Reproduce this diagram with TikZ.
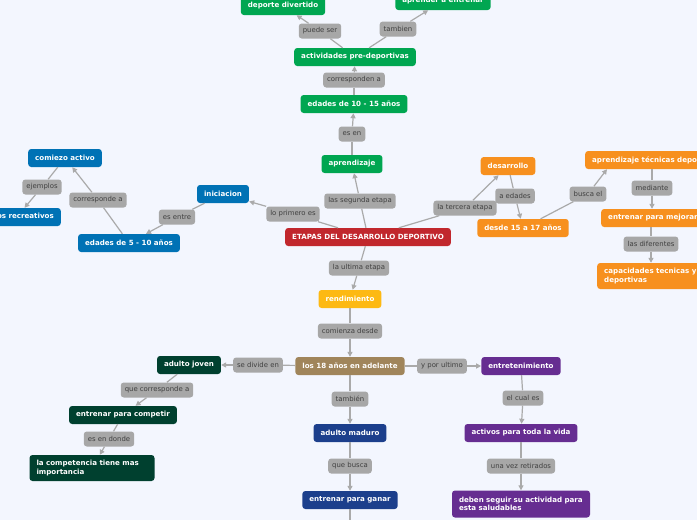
\documentclass[tikz,border=0pt]{standalone}
\usepackage{fontspec}
\setmainfont{DejaVu Sans}
\usetikzlibrary{arrows.meta,positioning}

\definecolor{bgcol}{HTML}{F3F6FE}
\definecolor{redc}{HTML}{C1272D}
\definecolor{greenc}{HTML}{00A651}
\definecolor{bluec}{HTML}{0072B5}
\definecolor{orangec}{HTML}{F7901E}
\definecolor{yellowc}{HTML}{FDB913}
\definecolor{brownc}{HTML}{A0855B}
\definecolor{dgreenc}{HTML}{00402F}
\definecolor{navyc}{HTML}{1C3F8C}
\definecolor{purplec}{HTML}{662D91}
\definecolor{lblgray}{HTML}{A7A7A7}
\definecolor{lbltext}{HTML}{404040}
\definecolor{linegray}{HTML}{AAAAAA}

\begin{document}
\begin{tikzpicture}[
  x=1pt, y=-1pt,
  topic/.style={rectangle, rounded corners=3pt, text=white, inner xsep=7pt, minimum height=18pt,
    font=\bfseries\fontsize{7.1}{8.6}\selectfont},
  lbl/.style={rectangle, rounded corners=3pt, fill=lblgray, text=lbltext, inner xsep=4pt, minimum height=15pt,
    font=\fontsize{6.9}{8}\selectfont},
  link/.style={draw=linegray, line width=1.2pt},
  arrow/.style={link, -{Triangle[length=5pt,width=5pt]}}
]
  \fill[bgcol] (0,0) rectangle (697,520);
  \useasboundingbox (0,0) rectangle (697,520);

  % centre
  \node[topic, fill=redc] (etapas) at (368,237) {ETAPAS DEL DESARROLLO DEPORTIVO};

  % aprendizaje
  \node[topic, fill=greenc] (aprend) at (352,164) {aprendizaje};
  \node[topic, fill=greenc] (edad10) at (354,104) {edades de 10 - 15 años};
  \node[topic, fill=greenc] (predep) at (355,57) {actividades pre-deportivas};
  \node[topic, fill=greenc] (divert) at (283,6) {deporte divertido};
  \node[topic, fill=greenc] (apentr) at (443,1) {aprender a entrenar};
  \node[lbl] (lsegunda) at (360,201) {las segunda etapa};
  \node[lbl] (lesen) at (352,134) {es en};
  \node[lbl] (lcorresp) at (354,80) {corresponden a};
  \node[lbl] (lpuede) at (320,31) {puede ser};
  \node[lbl] (ltamb) at (398,29) {tambien};

  % iniciacion
  \node[topic, fill=bluec] (inic) at (223,194) {iniciacion};
  \node[topic, fill=bluec] (edad5) at (129,243) {edades de 5 - 10 años};
  \node[topic, fill=bluec] (comien) at (65,158) {comiezo activo};
  \node[topic, fill=bluec, anchor=east] (juegos) at (61,217) {juegos recreativos};
  \node[lbl] (lprimero) at (293,214) {lo primero es};
  \node[lbl] (lentre) at (177,217) {es entre};
  \node[lbl] (lcorr) at (98,200) {corresponde a};
  \node[lbl] (lejem) at (42,187) {ejemplos};

  % desarrollo
  \node[topic, fill=orangec] (desarr) at (508,166) {desarrollo};
  \node[topic, fill=orangec] (desde15) at (523,228) {desde 15 a 17 años};
  \node[topic, fill=orangec, anchor=west] (tecnicas) at (585,160) {aprendizaje técnicas deportivas};
  \node[topic, fill=orangec, anchor=west] (mejorar) at (601,218) {entrenar para mejorar};
  \node[topic, fill=orangec, anchor=west, align=left, minimum height=26pt] (capac) at (597,276)
    {capacidades tecnicas y\\deportivas};
  \node[lbl] (ltercera) at (465,208) {la tercera etapa};
  \node[lbl] (ledades) at (515,196) {a edades};
  \node[lbl] (lbusca) at (588,194) {busca el};
  \node[lbl] (lmediante) at (652,188) {mediante};
  \node[lbl] (ldifer) at (651,244) {las diferentes};

  % rendimiento
  \node[topic, fill=yellowc] (rendim) at (350,299) {rendimiento};
  \node[topic, fill=brownc] (mas18) at (350,366) {los 18 años en adelante};
  \node[lbl] (lultima) at (359,268) {la ultima etapa};
  \node[lbl] (lcomienza) at (350,331) {comienza desde};

  \node[topic, fill=dgreenc] (joven) at (189,365) {adulto joven};
  \node[topic, fill=dgreenc] (compet) at (123,415) {entrenar para competir};
  \node[topic, fill=dgreenc, align=left, minimum height=26pt, text width=111pt] (import) at (92,468)
    {la competencia tiene mas\\importancia};
  \node[lbl] (ldivide) at (258,365) {se divide en};
  \node[lbl] (lquecorr) at (157,390) {que corresponde a};
  \node[lbl] (ldonde) at (109,439) {es en donde};

  \node[topic, fill=navyc] (maduro) at (350,433) {adulto maduro};
  \node[topic, fill=navyc] (ganar) at (350,500) {entrenar para ganar};
  \node[lbl] (ltambien) at (350,399) {también};
  \node[lbl] (lquebusca) at (350,466) {que busca};
  \coordinate (abajo) at (350,530);

  \node[topic, fill=purplec] (entret) at (521,366) {entretenimiento};
  \node[topic, fill=purplec] (activos) at (521,433) {activos para toda la vida};
  \node[topic, fill=purplec, align=left, minimum height=27pt, text width=124pt] (seguir) at (521,504)
    {deben seguir su actividad para\\esta saludables};
  \node[lbl] (lultimo) at (442,366) {y por ultimo};
  \node[lbl] (lcual) at (523,398) {el cual es};
  \node[lbl] (lretir) at (521,466) {una vez retirados};

  % connectors
  \draw[link] (etapas) -- (lsegunda);   \draw[arrow] (lsegunda) -- (aprend);
  \draw[link] (aprend) -- (lesen);      \draw[arrow] (lesen) -- (edad10);
  \draw[link] (edad10) -- (lcorresp);   \draw[arrow] (lcorresp) -- (predep);
  \draw[link] (predep) -- (lpuede);     \draw[arrow] (lpuede) -- (divert);
  \draw[link] (predep) -- (ltamb);      \draw[arrow] (ltamb) -- (apentr);

  \draw[link] (etapas) -- (lprimero);   \draw[arrow] (lprimero) -- (inic);
  \draw[link] (inic) -- (lentre);       \draw[arrow] (lentre) -- (edad5);
  \draw[link] (edad5) -- (lcorr);       \draw[arrow] (lcorr) -- (comien);
  \draw[link] (comien) -- (lejem);      \draw[arrow] (lejem) -- (juegos);

  \draw[link] (etapas) -- (ltercera);   \draw[arrow] (ltercera) -- (desarr);
  \draw[link] (desarr) -- (ledades);    \draw[arrow] (ledades) -- (desde15);
  \draw[link] (desde15) -- (lbusca);    \draw[arrow] (lbusca) -- (tecnicas.south west -| 607,169);
  \draw[link] (tecnicas.south -| lmediante) -- (lmediante);  \draw[arrow] (lmediante) -- (mejorar.north -| lmediante);
  \draw[link] (mejorar.south -| ldifer) -- (ldifer);        \draw[arrow] (ldifer) -- (capac.north -| ldifer);

  \draw[link] (etapas) -- (lultima);    \draw[arrow] (lultima) -- (rendim);
  \draw[link] (rendim) -- (lcomienza);  \draw[arrow] (lcomienza) -- (mas18);
  \draw[link] (mas18) -- (ldivide);     \draw[arrow] (ldivide) -- (joven);
  \draw[link] (joven) -- (lquecorr);    \draw[arrow] (lquecorr) -- (compet);
  \draw[link] (compet) -- (ldonde);     \draw[arrow] (ldonde) -- (import);
  \draw[link] (mas18) -- (ltambien);    \draw[arrow] (ltambien) -- (maduro);
  \draw[link] (maduro) -- (lquebusca);  \draw[arrow] (lquebusca) -- (ganar);
  \draw[link] (ganar) -- (abajo);
  \draw[link] (mas18) -- (lultimo);     \draw[arrow] (lultimo) -- (entret);
  \draw[link] (entret) -- (lcual);      \draw[arrow] (lcual) -- (activos);
  \draw[link] (activos) -- (lretir);    \draw[arrow] (lretir) -- (seguir);
\end{tikzpicture}
\end{document}
